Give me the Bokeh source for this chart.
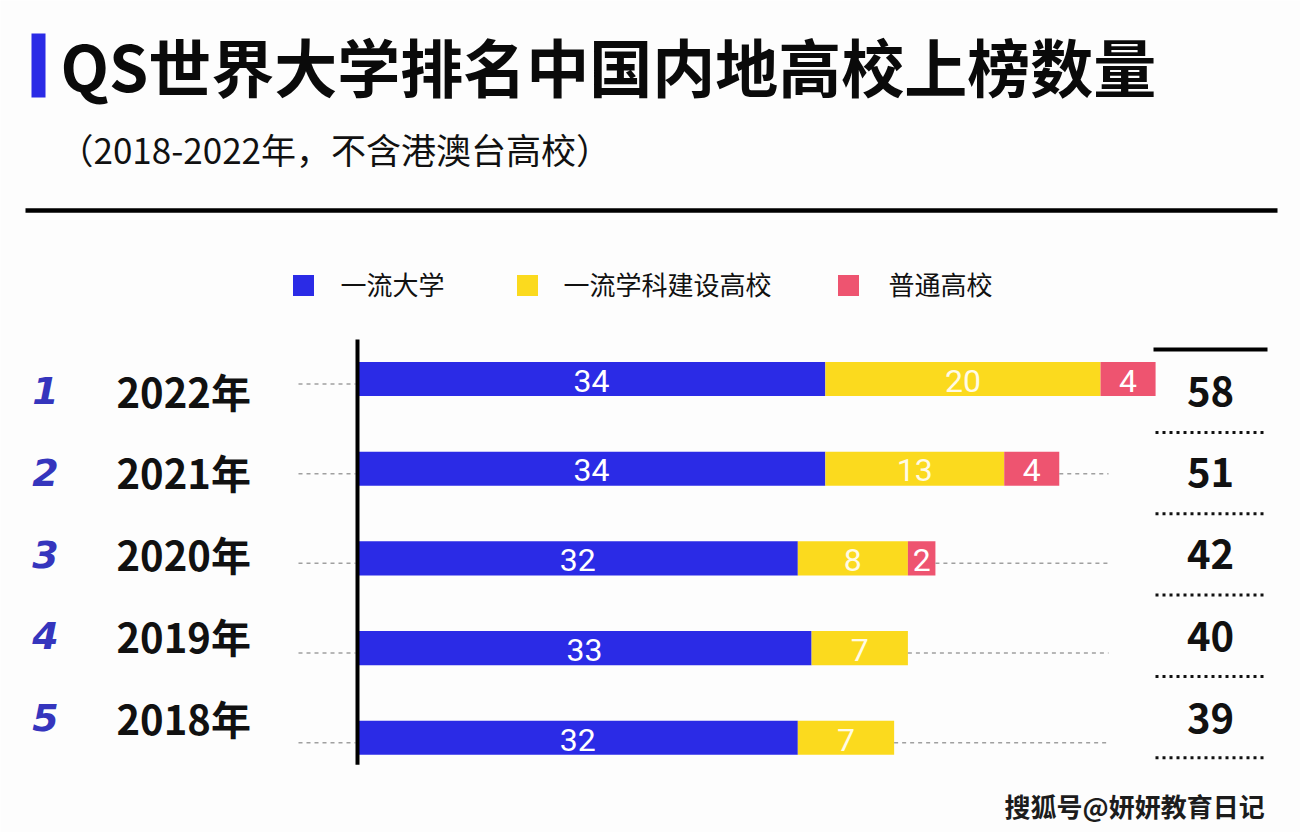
from bokeh.plotting import figure
from bokeh.models import Range1d, ColumnDataSource
from bokeh.core.properties import value
from bokeh.embed import file_html
from bokeh.resources import INLINE

# ---------------- data ----------------
years = ["2022年", "2021年", "2020年", "2019年", "2018年"]
ranks = ["1", "2", "3", "4", "5"]
first_class_univ = [34, 34, 32, 33, 32]      # 一流大学
first_class_disc = [20, 13, 8, 7, 7]         # 一流学科建设高校
ordinary = [4, 4, 2, 0, 0]                   # 普通高校
totals = [58, 51, 42, 40, 39]
series_names = ["一流大学", "一流学科建设高校", "普通高校"]
colors = ["#2b2be6", "#fbda1e", "#ee5470"]

title = "QS世界大学排名中国内地高校上榜数量"
subtitle = "（2018-2022年，不含港澳台高校）"
watermark = "搜狐号@妍妍教育日记"

CJK = value("Noto Sans CJK SC")

# ---------------- figure ----------------
W, H = 1300, 832
PX_PER_UNIT = 13.76
X0 = 357.0
ROW0, ROW_STEP = 378.5, 89.7

p = figure(width=W, height=H,
           x_range=Range1d(-X0 / PX_PER_UNIT, (W - X0) / PX_PER_UNIT),
           y_range=Range1d((H - ROW0) / ROW_STEP, -ROW0 / ROW_STEP),
           output_backend="svg", toolbar_location=None,
           x_axis_location=None, y_axis_location=None,
           min_border=0, outline_line_color=None,
           background_fill_color="#fdfdfd", border_fill_color="#fdfdfd")
p.grid.visible = False
p.extra_x_ranges = {"px": Range1d(0, W)}
p.extra_y_ranges = {"px": Range1d(H, 0)}

rows = list(range(len(years)))

# ---------------- bars ----------------
lefts = [0] * len(rows)
seg_x, seg_y, seg_txt, seg_col = [], [], [], []
for vals, col in zip([first_class_univ, first_class_disc, ordinary], colors):
    rights = [l + v for l, v in zip(lefts, vals)]
    src = ColumnDataSource(dict(y=rows, left=lefts, right=rights))
    p.hbar(y="y", left="left", right="right", height=0.38, source=src,
           fill_color=col, line_color=None)
    for r, l, v in zip(rows, lefts, vals):
        if v > 0:
            seg_x.append(l + v / 2)
            seg_y.append(r + 0.02)
            seg_txt.append(str(v))
            seg_col.append("#fffbe6" if col == colors[1] else "#ffffff")
    lefts = rights

p.text(x=seg_x, y=seg_y, text=seg_txt, text_color=seg_col,
       text_font=value("Roboto"), text_font_size="32px",
       text_align="center", text_baseline="middle")

# dashed guide lines
DASH_END = (1108 - X0) / PX_PER_UNIT
DASH_START = (298 - X0) / PX_PER_UNIT
for r, t in zip(rows, totals):
    p.line([DASH_START, -0.15], [r + 0.055, r + 0.055], line_color="#a0a0a0",
           line_width=1.5, line_dash="4 4")
    if t < DASH_END:
        p.line([t, DASH_END], [r + 0.055, r + 0.055], line_color="#a0a0a0",
               line_width=1.5, line_dash="4 4")

# vertical axis line
p.line([0, 0], [-0.44, 4.3], line_color="#000000", line_width=4)

# ---------------- decorations (pixel layer) ----------------
def ptext(x, y, txt, size, color="#111111", style="normal", align="left", font=CJK):
    p.text(x=x, y=y, text=txt, text_font=font, text_font_size=size,
           text_color=color, text_font_style=style, text_align=align,
           text_baseline="middle", x_range_name="px", y_range_name="px")

# title accent bar
p.quad(left=[31], right=[45], top=[33], bottom=[97], fill_color="#2b2be6",
       line_color=None, x_range_name="px", y_range_name="px")
ptext([60], [64], [title], "63px", color="#0a0a0a", style="bold")
ptext([58], [148], [subtitle], "35px", color="#111111")
# rule
p.line([25, 1277], [210, 210], line_color="#000000", line_width=4.5,
       x_range_name="px", y_range_name="px")

# legend
leg_sq_x = [303, 527, 848]
leg_tx_x = [340, 563, 888]
p.rect(x=leg_sq_x, y=[285] * 3, width=21, height=21, fill_color=colors,
       line_color=None, x_range_name="px", y_range_name="px")
ptext(leg_tx_x, [283] * 3, series_names, "26px", color="#111111")

# ranks, years, totals
LBL0, LBL_STEP = 390, 81.8
lbl_y = [LBL0 + LBL_STEP * r for r in rows]
ptext([45] * 5, lbl_y, ranks, "38px", color="#3535bd", style="bold italic",
      align="center", font=value("DejaVu Sans"))
ptext([116] * 5, lbl_y, years, "40px", color="#111111", style="bold")
ptext([1210] * 5, lbl_y, [str(t) for t in totals], "40px", color="#111111",
      style="bold", align="center")

# total column lines
p.line([1153, 1267], [349, 349], line_color="#000000", line_width=4,
       x_range_name="px", y_range_name="px")
for r in rows:
    yy = 432 + 81.3 * r
    p.line([1155, 1265], [yy, yy], line_color="#111111", line_width=3,
           line_dash="3 4", x_range_name="px", y_range_name="px")

# watermark
ptext([1004], [805], [watermark], "26px", color="#1c1c1c", style="bold")

open("out.html", "w").write(file_html(p, INLINE))
